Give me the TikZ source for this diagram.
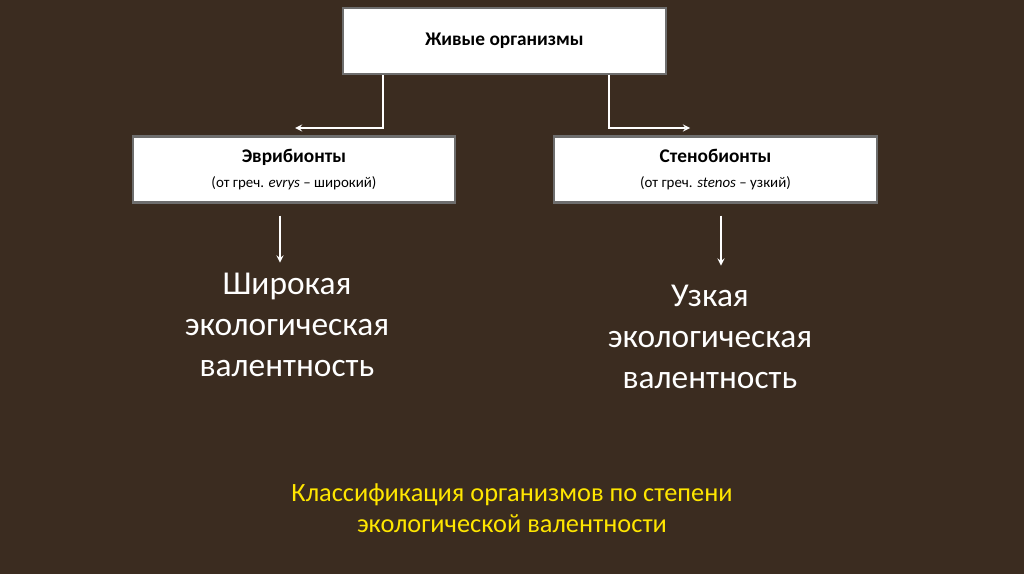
\documentclass[tikz,border=0pt]{standalone}
\usepackage{fontspec}
\setmainfont{Carlito}
\usetikzlibrary{positioning}
\definecolor{wood}{HTML}{3B2C20}
\definecolor{framegray}{HTML}{6E6E6E}
\definecolor{titleyellow}{HTML}{FFE600}
\tikzset{
  card/.style={draw=framegray, line width=1.2pt, fill=white, minimum height=1.32cm, align=center, text=black},
  bigtext/.style={text=white, align=center, font=\fontsize{19}{23.5}\selectfont},
}
\begin{document}
\begin{tikzpicture}[x=0.02cm, y=-0.02cm, >=stealth]
    % background
    \fill[wood] (0,0) rectangle (1024,574);
    \useasboundingbox (0,0) rectangle (1024,574);

\node[card, minimum width=6.46cm] (root) at (504.5,41) {\fontsize{11}{13}\selectfont\bfseries Живые организмы};
\node[card, minimum width=6.44cm] (eury) at (294,169.5) {{\fontsize{11}{13}\selectfont\bfseries Эврибионты}\\[2pt]\fontsize{8.5}{10}\selectfont(от греч. \textit{evrys} -- широкий)};
\node[card, minimum width=6.46cm] (steno) at (715.5,169.5) {{\fontsize{11}{13}\selectfont\bfseries Стенобионты}\\[2pt]\fontsize{8.5}{10}\selectfont(от греч. \textit{stenos} -- узкий)};

\coordinate (lturn) at (383,128);
\coordinate (rturn) at (609,128);
\coordinate (lend) at (295,128);
\coordinate (rend) at (690,128);

\draw[->, white, thick] (root.south -| lturn) -- (lturn) -- (lend);
\draw[->, white, thick] (root.south -| rturn) -- (rturn) -- (rend);

\node[bigtext] (wide) at (287,325) {Широкая\\экологическая\\валентность};
\node[bigtext] (narrow) at (710,337) {Узкая\\экологическая\\валентность};

\draw[->, white, thick] ([xshift=-0.28cm]eury.south) ++(0,12) coordinate (la) -- ([xshift=-0.28cm,yshift=-1.18cm]eury.south);
\draw[->, white, thick] ([xshift=0.11cm,yshift=-0.24cm]steno.south) -- ([xshift=0.11cm,yshift=-1.24cm]steno.south);

\node[text=titleyellow, align=center, font=\fontsize{15}{17.5}\selectfont] (caption) at (512,508) {Классификация организмов по степени\\экологической валентности};
\end{tikzpicture}
\end{document}
